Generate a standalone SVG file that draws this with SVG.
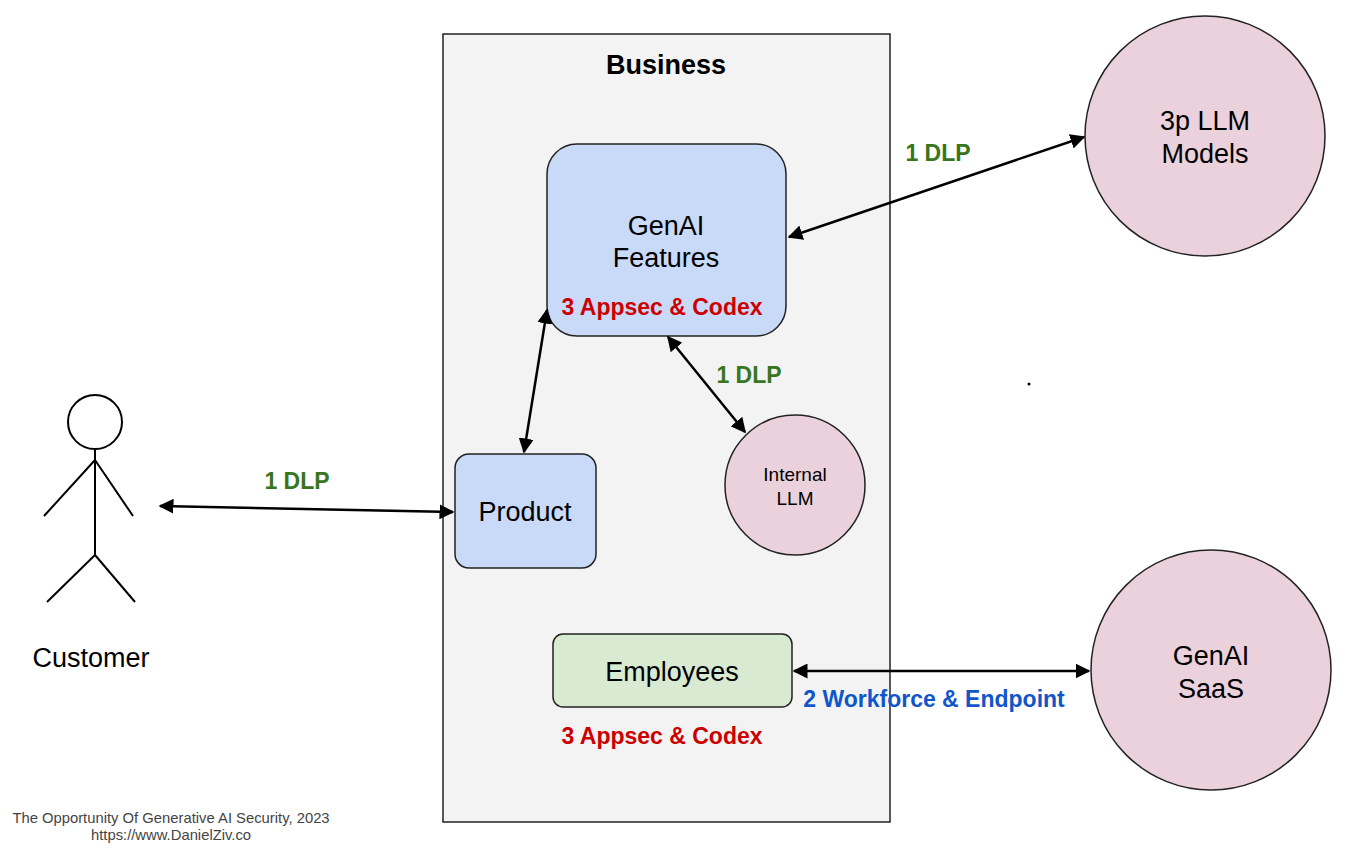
<svg xmlns="http://www.w3.org/2000/svg" width="1358" height="862" viewBox="0 0 1358 862">
<defs>
<marker id="a" viewBox="0 0 10 10" refX="9" refY="5" markerWidth="6" markerHeight="6" orient="auto-start-reverse"><path d="M0,0L10,5L0,10z" fill="#000"/></marker>
<style>
text{font-family:"Liberation Sans",Arial,sans-serif;text-anchor:middle}
.n{font-size:27px;fill:#000}
.g{font-size:23px;font-weight:bold;fill:#38761d}
.r{font-size:23px;font-weight:bold;fill:#cc0000}
.b{font-size:23px;font-weight:bold;fill:#1155cc}
.c{fill:#ead1dc;stroke:#222;stroke-width:1.5}
.l{stroke:#000;stroke-width:2.5;fill:none;marker-start:url(#a);marker-end:url(#a)}
</style>
</defs>
<rect width="1358" height="862" fill="#fff"/>
<g id="business"><rect x="443" y="34" width="447" height="788" fill="#f3f3f3" stroke="#222" stroke-width="1.5"/><text x="666" y="74" style="font-size:27px;font-weight:bold">Business</text></g>
<g id="genai-features"><rect x="547" y="144" width="239" height="192" rx="30" fill="#c9daf8" stroke="#222" stroke-width="1.5"/><text class="n" x="666" y="235">GenAI</text><text class="n" x="666" y="267">Features</text><text class="r" x="662" y="315">3 Appsec &amp; Codex</text></g>
<g id="product"><rect x="455" y="454" width="141" height="114" rx="14" fill="#c9daf8" stroke="#222" stroke-width="1.5"/><text class="n" x="525" y="521">Product</text></g>
<g id="internal-llm"><circle class="c" cx="795" cy="485" r="70"/><text x="795" y="481" style="font-size:19px">Internal</text><text x="795" y="505" style="font-size:19px">LLM</text></g>
<g id="llm-models"><circle class="c" cx="1205" cy="136" r="120"/><text class="n" x="1205" y="130">3p LLM</text><text class="n" x="1205" y="163">Models</text></g>
<g id="genai-saas"><circle class="c" cx="1211" cy="670" r="120"/><text class="n" x="1211" y="665">GenAI</text><text class="n" x="1211" y="698">SaaS</text></g>
<g id="employees"><rect x="553" y="634" width="239" height="73" rx="10" fill="#d9ead3" stroke="#222" stroke-width="1.5"/><text class="n" x="672" y="681">Employees</text><text class="r" x="662" y="744">3 Appsec &amp; Codex</text></g>
<g id="customer" stroke="#000" stroke-width="2" fill="none"><circle cx="95" cy="422" r="27" fill="#fff"/><path d="M95,449V555M95,460L44,516M95,460L133,516M95,555L47,602M95,555L135,602"/><text x="91" y="667" class="n" stroke="none" fill="#000">Customer</text></g>
<g id="connectors">
<line class="l" x1="160" y1="506" x2="453" y2="512"/>
<line class="l" x1="547" y1="310" x2="524" y2="452"/>
<line class="l" x1="668" y1="337" x2="745" y2="432"/>
<line class="l" x1="789" y1="237" x2="1084" y2="137"/>
<line class="l" x1="794" y1="671" x2="1089" y2="671"/>
<text class="g" x="297" y="489">1 DLP</text>
<text class="g" x="749" y="383">1 DLP</text>
<text class="g" x="938" y="161">1 DLP</text>
<text class="b" x="934" y="707">2 Workforce &amp; Endpoint</text>
</g>
<circle cx="1029" cy="384" r="1.5" fill="#000"/>
<text x="171" y="823" style="font-size:14.8px;fill:#444">The Opportunity Of Generative AI Security, 2023</text>
<text x="171" y="840" style="font-size:14.8px;fill:#444">https://www.DanielZiv.co</text>
</svg>
